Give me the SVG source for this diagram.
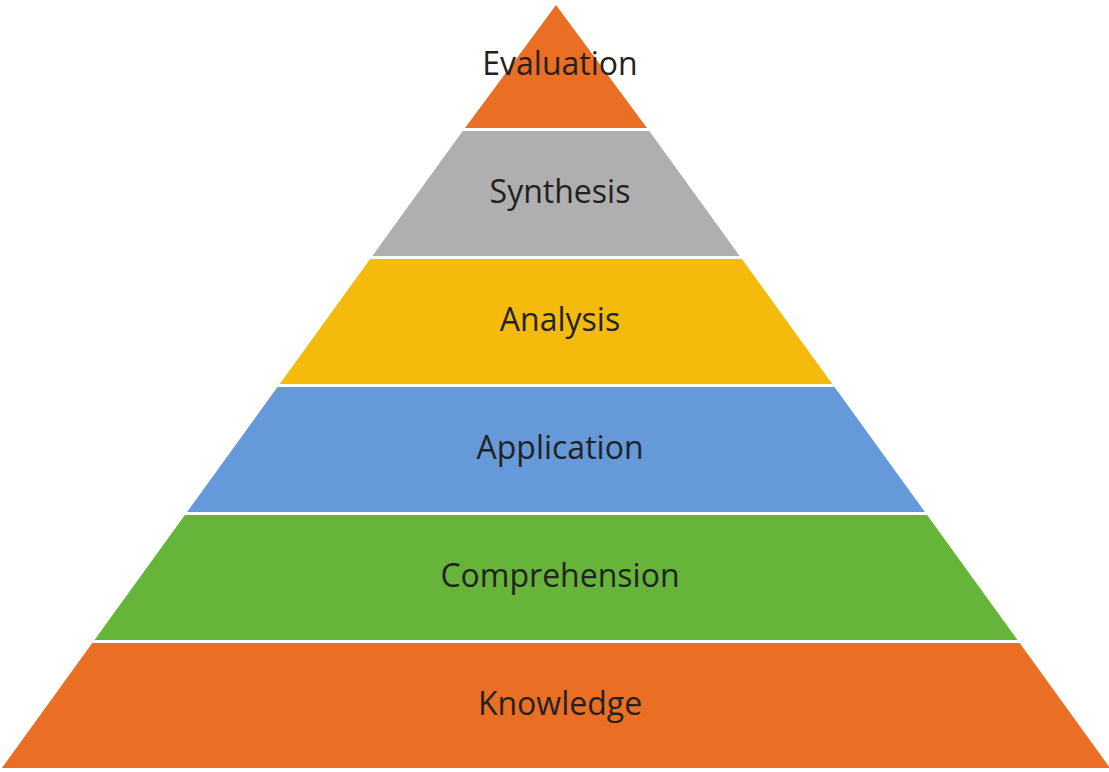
<svg xmlns="http://www.w3.org/2000/svg" width="1109" height="772" viewBox="0 0 1109 772">
<style>
text{font-family:"Open Sans","Liberation Sans",sans-serif;font-size:32px;fill:#222;text-anchor:middle}
</style>
<rect width="1109" height="772" fill="#fff"/>
<g id="evaluation"><polygon points="556,5 647,128 465,128" fill="#EA6E24"/><text x="560" y="75">Evaluation</text></g>
<g id="synthesis"><polygon points="462.7,131 649.3,131 739.7,256 372.3,256" fill="#AFAFAF"/><text x="560" y="203">Synthesis</text></g>
<g id="analysis"><polygon points="370.1,259 741.9,259 832.3,384 279.7,384" fill="#F5BB0C"/><text x="560" y="331">Analysis</text></g>
<g id="application"><polygon points="277.5,387 834.5,387 924.9,512 187.1,512" fill="#6699D9"/><text x="560" y="459">Application</text></g>
<g id="comprehension"><polygon points="184.9,515 927.1,515 1017.5,640 94.5,640" fill="#66B43A"/><text x="560" y="587">Comprehension</text></g>
<g id="knowledge"><polygon points="92.3,643 1019.7,643 1110,768 1.9,768" fill="#EA6E24"/><text x="560" y="715">Knowledge</text></g>
<g id="connectors"/>
</svg>
